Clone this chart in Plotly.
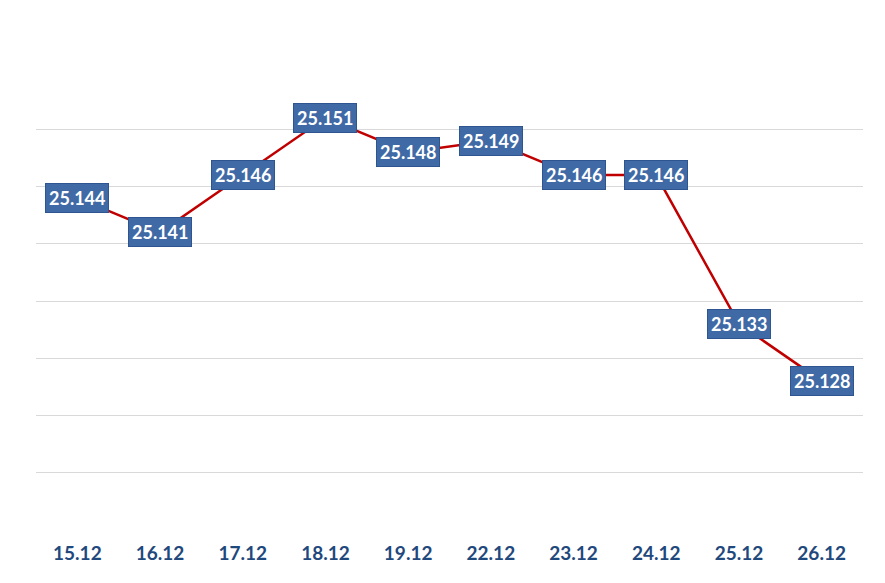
import plotly.graph_objects as go

dates = ['15.12', '16.12', '17.12', '18.12', '19.12', '22.12', '23.12', '24.12', '25.12', '26.12']
rates = [25.144, 25.141, 25.146, 25.151, 25.148, 25.149, 25.146, 25.146, 25.133, 25.128]

fig = go.Figure()
fig.add_trace(go.Scatter(
    x=dates, y=rates, mode='lines',
    line=dict(color='#c00000', width=2.5),
    hoverinfo='skip',
))

# value boxes over each point (category index as x, strings would be read as numbers)
for i, v in enumerate(rates):
    fig.add_annotation(
        x=i, y=v, xref='x', yref='y', text='<b>%.3f</b>' % v, showarrow=False,
        font=dict(family='Lato', size=18, color='white'),
        bgcolor='#3f6aa6', bordercolor='#2f5590', borderwidth=1, borderpad=3,
    )

fig.update_layout(
    width=885, height=583,
    margin=dict(l=28, r=30, t=64, b=61, autoexpand=False),
    plot_bgcolor='white', paper_bgcolor='white',
    showlegend=False,
    xaxis=dict(
        type='category', automargin=False,
        showgrid=False, showline=False, ticks='',
        tickfont=dict(family='Lato', size=19, color='#1f497d'),
        range=[-0.5, 9.5], ticklabelstandoff=10,
        tickprefix='<b>', ticksuffix='</b>',
    ),
    yaxis=dict(
        automargin=False,
        range=[25.115, 25.155], dtick=0.005, tick0=25.115,
        showticklabels=False, gridcolor='#d9d9d9', gridwidth=1,
        zeroline=False, showline=False,
    ),
)

fig.write_html("out.html")
